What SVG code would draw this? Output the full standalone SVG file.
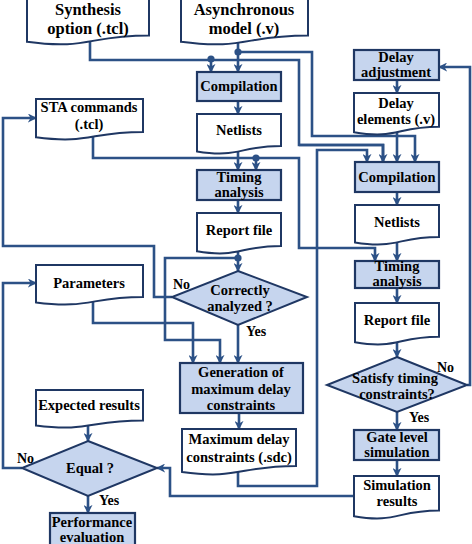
<svg xmlns="http://www.w3.org/2000/svg" width="472" height="544" viewBox="0 0 472 544">
<style>
.doc{fill:#ffffff;stroke:#1F3763;stroke-width:2}
.box{fill:#C6D5EE;stroke:#1F3763;stroke-width:2.2}
.dia{fill:#C6D5EE;stroke:#1F3763;stroke-width:2}
.t{font-family:"Liberation Serif","Times New Roman",serif;font-weight:bold;font-size:14.5px;fill:#000;text-anchor:middle}
.big{font-size:16.5px}
.lbl{font-family:"Liberation Serif","Times New Roman",serif;font-weight:bold;font-size:14px;fill:#000}
.c{fill:none;stroke:#2C5186;stroke-width:2.6;stroke-linejoin:miter}
.a{marker-end:url(#ah)}
.dot{fill:#2C5186}
</style>
<defs>
<marker id="ah" viewBox="0 0 10 10" refX="9" refY="5" markerWidth="9" markerHeight="9" markerUnits="userSpaceOnUse" orient="auto">
<path d="M0,0 L10,5 L0,10 L3,5 Z" fill="#2C5186"/>
</marker>
</defs>
<rect x="0" y="0" width="472" height="544" fill="#ffffff"/>

<g id="connectors">
<path class="c" d="M90,42 V60 H299 V145 H383 V162"/>
<path class="c a" d="M299,145 H383 V162"/>
<path class="c a" d="M211,60 V72"/>
<path class="c a" d="M238,42 V72"/>
<path class="c a" d="M238,52 H312 V136 H415 V162"/>
<path class="c a" d="M397,80 V93"/>
<path class="c a" d="M397,132 V162"/>
<path class="c a" d="M238,101 V114"/>
<path class="c a" d="M238,151 V170"/>
<path class="c a" d="M93,137 V158 H299 V248 H375 V261"/>
<path class="c a" d="M256,158 V170"/>
<path class="c a" d="M238,200 V213"/>
<path class="c a" d="M238,251 V271"/>
<path class="c a" d="M238,258 H165 V340 H220 V363"/>
<path class="c a" d="M172,297 H154 V246 H3 V118 H36"/>
<path class="c a" d="M238,325 V363"/>
<path class="c a" d="M93,302 V323 H193 V363"/>
<path class="c a" d="M239,413 V429"/>
<path class="c a" d="M238,472 V486 H317 V150 H367 V162"/>
<path class="c a" d="M397,192 V205"/>
<path class="c a" d="M397,242 V261"/>
<path class="c a" d="M397,288 V303"/>
<path class="c a" d="M397,342 V357"/>
<path class="c a" d="M467,385 H470 V67 H439"/>
<path class="c a" d="M397,412 V430"/>
<path class="c a" d="M397,460 V476"/>
<path class="c a" d="M354,496 H170 V468 H157"/>
<path class="c a" d="M88,425 V441"/>
<path class="c a" d="M22,468 H3 V283 H36"/>
<path class="c a" d="M88,496 V513"/>
<circle class="dot" cx="211" cy="59" r="3.6"/>
<circle class="dot" cx="238" cy="52" r="3.6"/>
<circle class="dot" cx="256" cy="158" r="3.6"/>
<circle class="dot" cx="238" cy="258" r="3.6"/>
</g>

<g id="synthesis">
<path class="doc" d="M27,-3 H149 V35.5 C88,35.5 88,50.1 27,41.8 Z"/>
<text class="t big" x="88" y="15">Synthesis</text>
<text class="t big" x="88" y="34">option (.tcl)</text>
</g>
<g id="async">
<path class="doc" d="M181,-3 H308 V35.5 C244.5,35.5 244.5,50.1 181,41.8 Z"/>
<text class="t big" x="244" y="15">Asynchronous</text>
<text class="t big" x="244" y="34">model (.v)</text>
</g>
<g id="sta">
<path class="doc" d="M36,99 H143 V131.9 C89.5,131.9 89.5,144.4 36,137.3 Z"/>
<text class="t" x="89" y="112">STA commands</text>
<text class="t" x="89" y="129">(.tcl)</text>
</g>
<g id="parameters">
<path class="doc" d="M36,265 H143 V297.1 C89.5,297.1 89.5,309.3 36,302.4 Z"/>
<text class="t" x="89" y="288">Parameters</text>
</g>
<g id="expected">
<path class="doc" d="M36,390 H143 V420.5 C89.5,420.5 89.5,432.1 36,425.5 Z"/>
<text class="t" x="89" y="410">Expected results</text>
</g>
<g id="equal">
<polygon class="dia" points="88,441 157,468 88,496 22,468"/>
<text class="t" x="90" y="473">Equal ?</text>
<text class="lbl" x="17" y="463">No</text>
<text class="lbl" x="99" y="505">Yes</text>
</g>
<g id="perf">
<rect class="box" x="50" y="513" width="85" height="40"/>
<text class="t" x="92" y="527">Performance</text>
<text class="t" x="92" y="542">evaluation</text>
</g>
<g id="comp1">
<rect class="box" x="197" y="72" width="84" height="29"/>
<text class="t" x="239" y="91">Compilation</text>
</g>
<g id="netlists1">
<path class="doc" d="M197,114 H281 V146.1 C239,146.1 239,158.3 197,151.4 Z"/>
<text class="t" x="239" y="135">Netlists</text>
</g>
<g id="timing1">
<rect class="box" x="197" y="170" width="84" height="30"/>
<text class="t" x="239" y="182">Timing</text>
<text class="t" x="239" y="197">analysis</text>
</g>
<g id="report1">
<path class="doc" d="M197,213 H281 V245.9 C239,245.9 239,258.4 197,251.3 Z"/>
<text class="t" x="239" y="235">Report file</text>
</g>
<g id="correctly">
<polygon class="dia" points="238,271 307,297 238,325 172,297"/>
<text class="t" x="240" y="295">Correctly</text>
<text class="t" x="240" y="311">analyzed ?</text>
<text class="lbl" x="173" y="289">No</text>
<text class="lbl" x="246" y="336">Yes</text>
</g>
<g id="generation">
<rect class="box" x="180" y="363" width="123" height="50"/>
<text class="t" x="241" y="377">Generation of</text>
<text class="t" x="241" y="394">maximum delay</text>
<text class="t" x="241" y="410">constraints</text>
</g>
<g id="maxdelay">
<path class="doc" d="M182,429 H296 V465.9 C239,465.9 239,479.9 182,472 Z"/>
<text class="t" x="239" y="444">Maximum delay</text>
<text class="t" x="239" y="462">constraints (.sdc)</text>
</g>
<g id="delayadj">
<rect class="box" x="354" y="50" width="85" height="30"/>
<text class="t" x="396" y="62">Delay</text>
<text class="t" x="396" y="77">adjustment</text>
</g>
<g id="delayelem">
<path class="doc" d="M354,93 H439 V126.7 C396.5,126.7 396.5,139.5 354,132.2 Z"/>
<text class="t" x="396" y="108">Delay</text>
<text class="t" x="396" y="124">elements (.v)</text>
</g>
<g id="comp2">
<rect class="box" x="355" y="162" width="84" height="30"/>
<text class="t" x="397" y="182">Compilation</text>
</g>
<g id="netlists2">
<path class="doc" d="M355,205 H439 V237.1 C397,237.1 397,249.3 355,242.4 Z"/>
<text class="t" x="397" y="227">Netlists</text>
</g>
<g id="timing2">
<rect class="box" x="355" y="261" width="84" height="27"/>
<text class="t" x="397" y="271">Timing</text>
<text class="t" x="397" y="286">analysis</text>
</g>
<g id="report2">
<path class="doc" d="M355,303 H439 V336.7 C397,336.7 397,349.5 355,342.2 Z"/>
<text class="t" x="397" y="325">Report file</text>
</g>
<g id="satisfy">
<polygon class="dia" points="397,357 467,385 397,412 327,385"/>
<text class="t" x="395" y="383">Satisfy timing</text>
<text class="t" x="397" y="399">constraints?</text>
<text class="lbl" x="437" y="372">No</text>
<text class="lbl" x="409" y="422">Yes</text>
</g>
<g id="gate">
<rect class="box" x="354" y="430" width="85" height="30"/>
<text class="t" x="397" y="442">Gate level</text>
<text class="t" x="397" y="457">simulation</text>
</g>
<g id="simres">
<path class="doc" d="M354,476 H439 V510.5 C396.5,510.5 396.5,523.6 354,516.2 Z"/>
<text class="t" x="397" y="490">Simulation</text>
<text class="t" x="397" y="506">results</text>
</g>
</svg>
